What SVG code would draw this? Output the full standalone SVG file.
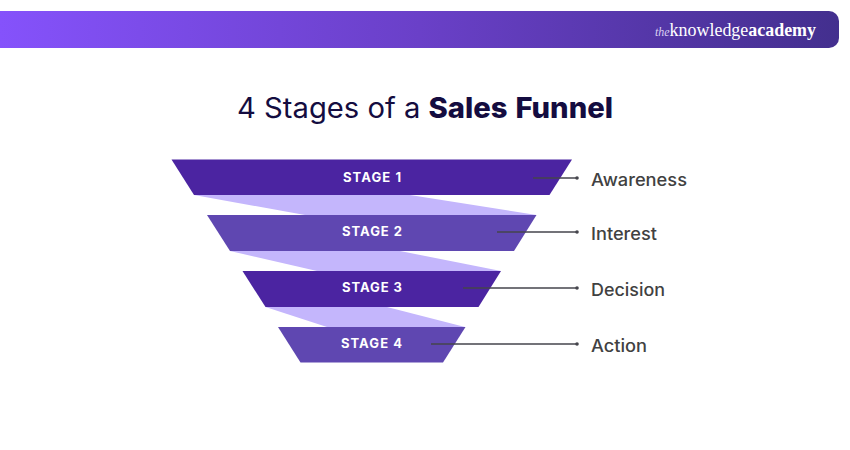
<svg xmlns="http://www.w3.org/2000/svg" width="850" height="450" viewBox="0 0 850 450">
<style>
.dark{fill:#4b24a1}
.mid{fill:#5f47b1}
.band{fill:#c4b6fc}
.stage{font:700 13px Inter,"Liberation Sans",sans-serif;fill:#fff}
.label{font:450 17px Inter,"Liberation Sans",sans-serif;fill:#414141}
.title{font:400 28px Inter,"Liberation Sans",sans-serif;fill:#140c40}
.lead{fill:none;stroke:#45454d;stroke-width:1.3;marker-end:url(#dot)}
.logo{font-family:"Liberation Serif",serif;font-size:18px;fill:#fff}
</style>
<defs>
<linearGradient id="bar" x1="0" y1="0" x2="1" y2="0"><stop offset="0" stop-color="#8552fb"/><stop offset="0.5" stop-color="#6a40c8"/><stop offset="1" stop-color="#432f8e"/></linearGradient>
<marker id="dot" markerUnits="userSpaceOnUse" markerWidth="6" markerHeight="6" refX="3" refY="3"><circle cx="3" cy="3" r="1.8" fill="#45454d"/></marker>
</defs>
<g id="header">
<path d="M0 11H829a10 10 0 0 1 10 10V38a10 10 0 0 1-10 10H0Z" fill="url(#bar)"/>
<text class="logo" x="655" y="36" textLength="161" lengthAdjust="spacingAndGlyphs"><tspan font-style="italic" font-size="12" fill="#d9d0f2">the</tspan><tspan>knowledge</tspan><tspan font-weight="700">academy</tspan></text>
</g>
<text id="title" class="title" x="237" y="118" textLength="376" lengthAdjust="spacingAndGlyphs">4 Stages of a <tspan font-weight="800" word-spacing="1.500">Sales Funnel</tspan></text>
<g id="bands">
<path class="band" d="M194 195H410L536.500 215H305Z"/>
<path class="band" d="M230 251H400L501 271H317Z"/>
<path class="band" d="M265.500 307H387L465 327H327Z"/>
</g>
<g id="stage-1"><path class="dark" d="M171.500 159.500H572L549.500 195H194Z"/><text class="stage" x="343" y="182" textLength="58">STAGE 1</text></g>
<g id="stage-2"><path class="mid" d="M207 215H536.500L514 251H230Z"/><text class="stage" x="342" y="236" textLength="60">STAGE 2</text></g>
<g id="stage-3"><path class="dark" d="M242.500 271H501L478.500 307H265.500Z"/><text class="stage" x="342" y="292" textLength="60">STAGE 3</text></g>
<g id="stage-4"><path class="mid" d="M278 327H465.500L443 362.500H300.500Z"/><text class="stage" x="341" y="348" textLength="61">STAGE 4</text></g>
<g id="connectors">
<path class="lead" d="M533 178H577"/>
<path class="lead" d="M497 232H577"/>
<path class="lead" d="M463 288H577"/>
<path class="lead" d="M431 344H577"/>
</g>
<g id="awareness"><text class="label" x="591" y="185.500" textLength="96" lengthAdjust="spacingAndGlyphs">Awareness</text></g>
<g id="interest"><text class="label" x="591" y="239.500" textLength="66" lengthAdjust="spacingAndGlyphs">Interest</text></g>
<g id="decision"><text class="label" x="591" y="295.500" textLength="74" lengthAdjust="spacingAndGlyphs">Decision</text></g>
<g id="action"><text class="label" x="591" y="351.500" textLength="56" lengthAdjust="spacingAndGlyphs">Action</text></g>
</svg>
